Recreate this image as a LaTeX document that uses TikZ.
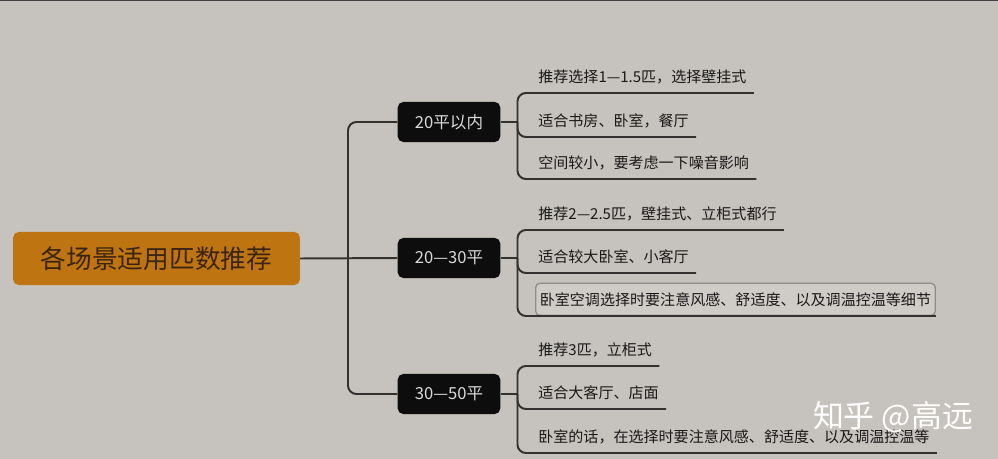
\documentclass[tikz,border=0pt]{standalone}
\usepackage{fontspec}
\setmainfont{Noto Sans CJK SC}
\definecolor{bg}{HTML}{C6C2BD}
\definecolor{rootc}{HTML}{BF7412}
\definecolor{roott}{HTML}{3A2412}
\definecolor{linec}{HTML}{333230}
\begin{document}
\begin{tikzpicture}[x=0.025cm,y=-0.025cm,
    link/.style={draw=linec,line width=1.4pt,rounded corners=6pt},
    rootbox/.style={fill=rootc,rounded corners=4pt,minimum width=204pt,minimum height=37.7pt,font=\fontsize{18.3pt}{20pt}\selectfont,text=roott},
    areabox/.style={fill=black!95,rounded corners=4pt,minimum width=73pt,minimum height=28.5pt,font=\fontsize{11.8pt}{14pt}\selectfont,text=white!85!black},
    leaf/.style={anchor=south west,inner xsep=5pt,inner ysep=0pt,text height=10pt,text depth=7.3pt,font=\fontsize{10.7pt}{12pt}\selectfont,text=black!90},
    leafbox/.style={leaf,inner xsep=3pt,text height=15.5pt,draw=black!45,fill=white!15!bg,rounded corners=3pt,line width=0.9pt}]
    \fill[bg] (0,0) rectangle (998,459); %背景
    \useasboundingbox (0,0) rectangle (998,459);
    \fill[black!75] (0,0) rectangle (998,1.5); %上端

    \node[rootbox] (root) at (156.5,258.5) {各场景适用匹数推荐};
    \node[areabox] (a1) at (449,122) {20平以内};
    \node[areabox] (a2) at (449,258) {20—30平};
    \node[areabox] (a3) at (449,394) {30—50平};
    \coordinate (hub) at (348,258);
    \draw[link] (root.east) -- (a2.west);
    \draw[link] (hub) |- (a1.west);
    \draw[link] (hub) |- (a3.west);

    % 20平以内
    \coordinate (b1) at ([xshift=12pt]a1.east);
    \draw[link] (a1.east) -- (b1);
    \node[leaf] (a1x1) at (531,93) {推荐选择1—1.5匹，选择壁挂式};
    \node[leaf] (a1x2) at (531,137) {适合书房、卧室，餐厅};
    \node[leaf] (a1x3) at (531,179) {空间较小，要考虑一下噪音影响};
    \draw[link] (b1) |- (a1x1.south east);
    \draw[link] (b1) |- (a1x2.south east);
    \draw[link] (b1) |- (a1x3.south east);

    % 20—30平
    \coordinate (b2) at ([xshift=12pt]a2.east);
    \draw[link] (a2.east) -- (b2);
    \node[leaf] (a2x1) at (531,230) {推荐2—2.5匹，壁挂式、立柜式都行};
    \node[leaf] (a2x2) at (531,273) {适合较大卧室、小客厅};
    \node[leafbox] (a2x3) at (535,316) {卧室空调选择时要注意风感、舒适度、以及调温控温等细节};
    \draw[link] (b2) |- (a2x1.south east);
    \draw[link] (b2) |- (a2x2.south east);
    \draw[link] (b2) |- (a2x3.south east);

    % 30—50平
    \coordinate (b3) at ([xshift=12pt]a3.east);
    \draw[link] (a3.east) -- (b3);
    \node[leaf] (a3x1) at (531,366) {推荐3匹，立柜式};
    \node[leaf] (a3x2) at (531,409) {适合大客厅、店面};
    \node[leaf] (a3x3) at (531,453) {卧室的话，在选择时要注意风感、舒适度、以及调温控温等};
    \draw[link] (b3) |- (a3x1.south east);
    \draw[link] (b3) |- (a3x2.south east);
    \draw[link] (b3) |- (a3x3.south east);

    \node[text=white,font=\fontsize{22pt}{24pt}\selectfont] (mark) at (893,417) {知乎 @高远}; %水印
\end{tikzpicture}
\end{document}
